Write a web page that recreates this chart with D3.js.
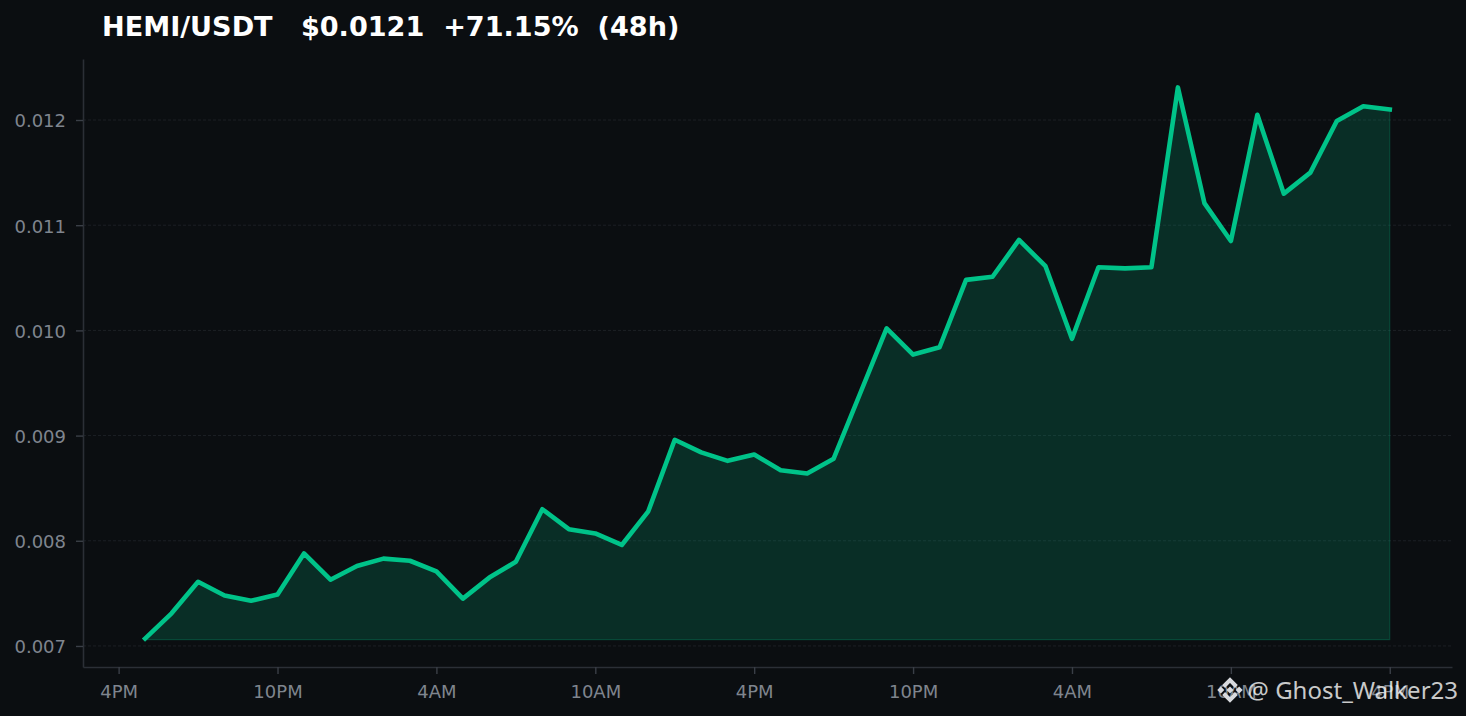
<!DOCTYPE html>
<html>
<head>
<meta charset="utf-8">
<script src="https://cdn.jsdelivr.net/npm/d3@7"></script>
<style>
  html, body { margin: 0; padding: 0; background: #0b0e11; overflow: hidden; }
  svg { display: block; font-family: "DejaVu Sans", sans-serif; }
</style>
</head>
<body>
<div id="chart"></div>
<script>
// Hours since the 4PM tick, one point per hour
const hours = [1, 2, 3, 4, 5, 6, 7, 8, 9, 10, 11, 12, 13, 14, 15, 16,
    17, 18, 19, 20, 21, 22, 23, 24, 25, 26, 27, 28, 29, 30, 31, 32,
    33, 34, 35, 36, 37, 38, 39, 40, 41, 42, 43, 44, 45, 46, 47, 48];
const prices = [0.00707, 0.00731, 0.00761, 0.00748, 0.00743, 0.00749, 0.00788, 0.00763,
    0.00776, 0.00783, 0.00781, 0.00771, 0.00745, 0.00765, 0.00780, 0.00830,
    0.00811, 0.00807, 0.00796, 0.00828, 0.00896, 0.00884, 0.00876, 0.00882,
    0.00867, 0.00864, 0.00878, 0.00940, 0.01002, 0.00977, 0.00984, 0.01048,
    0.01051, 0.01086, 0.01061, 0.00992, 0.01060, 0.01059, 0.01060, 0.01231,
    0.01121, 0.01085, 0.01205, 0.01130, 0.01150, 0.01199, 0.01213, 0.01210];
const xTickHours = [0, 6, 12, 18, 24, 30, 36, 42, 48];
const xTickLabels = ['4PM', '10PM', '4AM', '10AM', '4PM', '10PM', '4AM', '10AM', '4PM'];
const yTicks = [0.007, 0.008, 0.009, 0.010, 0.011, 0.012];
const areaFloor = 0.00706;

const titleText = 'HEMI/USDT   $0.0121  +71.15%  (48h)';
const watermarkText = '@ Ghost_Walker23';

const width = 1466;
const height = 716;
const margin = {top: 59, right: 14, bottom: 49, left: 83};

const green = '#00c389';
const axisColor = '#2b2f36';
const tickText = '#7f858e';

const svg = d3.select('#chart')
    .append('svg')
    .attr('width', width)
    .attr('height', height);

svg.append('rect')
    .attr('width', width)
    .attr('height', height)
    .attr('fill', '#0b0e11');

// Set up scales
const x = d3.scaleLinear()
    .domain([-1.345, 50.35])
    .range([margin.left, width - margin.right]);

const y = d3.scaleLinear()
    .domain([0.00680, 0.01258])
    .range([height - margin.bottom, margin.top]);

const points = hours.map((h, i) => ({hour: h, price: prices[i]}));

// Gridlines
svg.append('g')
    .selectAll('line')
    .data(yTicks)
    .enter().append('line')
    .attr('x1', margin.left)
    .attr('x2', width - margin.right)
    .attr('y1', d => y(d))
    .attr('y2', d => y(d))
    .attr('stroke', '#2b2f36')
    .attr('stroke-width', 0.8)
    .attr('stroke-dasharray', '3 2')
    .attr('opacity', 0.7);

// Area under the line
const area = d3.area()
    .x(d => x(d.hour))
    .y0(y(areaFloor))
    .y1(d => y(d.price));

svg.append('path')
    .datum(points)
    .attr('fill', green)
    .attr('fill-opacity', 0.18)
    .attr('stroke', green)
    .attr('stroke-opacity', 0.22)
    .attr('stroke-width', 1.2)
    .attr('d', area);

// Price line
const line = d3.line()
    .x(d => x(d.hour))
    .y(d => y(d.price));

svg.append('path')
    .datum(points)
    .attr('fill', 'none')
    .attr('stroke', green)
    .attr('stroke-width', 4.6)
    .attr('stroke-linejoin', 'round')
    .attr('stroke-linecap', 'square')
    .attr('d', line);

// Axes
const xAxis = svg.append('g')
    .attr('transform', `translate(0,${height - margin.bottom})`)
    .call(d3.axisBottom(x)
        .tickValues(xTickHours)
        .tickFormat((d, i) => xTickLabels[i])
        .tickSize(7)
        .tickSizeOuter(0)
        .tickPadding(11));

const yAxis = svg.append('g')
    .attr('transform', `translate(${margin.left},0)`)
    .call(d3.axisLeft(y)
        .tickValues(yTicks)
        .tickFormat(d3.format('.3f'))
        .tickSize(7)
        .tickSizeOuter(0)
        .tickPadding(10));

[xAxis, yAxis].forEach(axis => {
    axis.attr('font-family', '"DejaVu Sans", sans-serif').attr('font-size', 18);
    axis.select('.domain').attr('stroke', axisColor).attr('stroke-width', 1.6);
    axis.selectAll('.tick line').attr('stroke', '#3a3f47').attr('stroke-width', 1.4);
    axis.selectAll('.tick text').attr('fill', tickText);
});
yAxis.selectAll('.tick text').attr('dy', '0.38em');

// Title
svg.append('text')
    .attr('x', 102)
    .attr('y', 36)
    .attr('fill', '#ffffff')
    .attr('font-size', 27.1)
    .attr('font-weight', 'bold')
    .attr('xml:space', 'preserve')
    .style('white-space', 'pre')
    .text(titleText);

// Watermark: exchange icon and handle
const icon = svg.append('g')
    .attr('transform', 'translate(1230,690) rotate(45)')
    .attr('fill', '#d8dade');

[[-2.5, -2.5], [-9, 4], [4, -9]].forEach(r => {
    icon.append('rect')
        .attr('x', r[0]).attr('y', r[1])
        .attr('width', 5).attr('height', 5);
});

icon.append('path')
    .attr('fill', 'none')
    .attr('stroke', '#d8dade')
    .attr('stroke-width', 4)
    .attr('d', 'M-7,2V-7H2M7,-2V7H-2');

svg.append('text')
    .attr('x', 1458)
    .attr('y', 699)
    .attr('text-anchor', 'end')
    .attr('fill', '#ffffff')
    .attr('fill-opacity', 0.78)
    .attr('font-family', '"Noto Sans", sans-serif')
    .attr('font-size', 24)
    .text(watermarkText);
</script>
</body>
</html>
